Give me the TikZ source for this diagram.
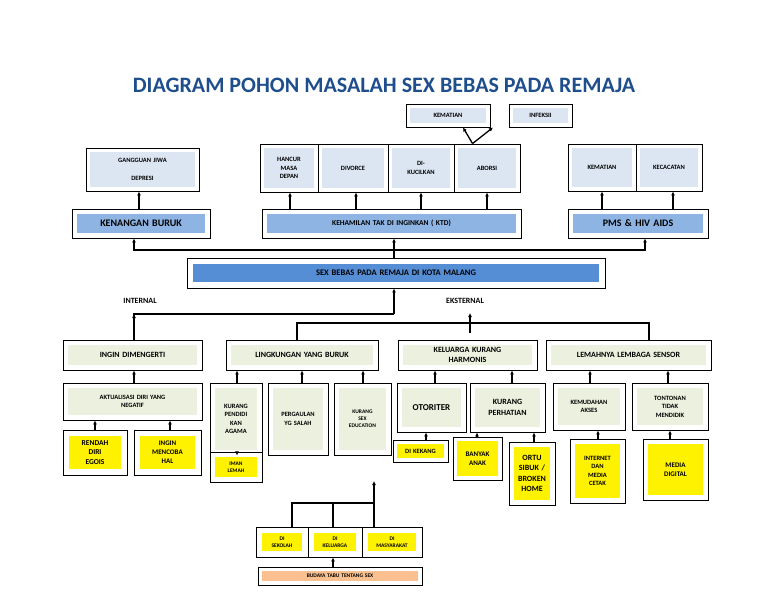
\documentclass[tikz,border=0pt]{standalone}
\usepackage{fontspec}
\setmainfont{Carlito}
\usetikzlibrary{arrows.meta,calc}
\definecolor{ttl}{HTML}{1F4E8C}
\definecolor{lb}{HTML}{DCE6F2}
\definecolor{mb}{HTML}{8EB4E3}
\definecolor{db}{HTML}{558ED5}
\definecolor{lg}{HTML}{EBF1DE}
\definecolor{pe}{HTML}{FAC090}
\tikzset{arr/.style={line width=1.3pt,-{Latex[length=4pt,width=4pt]}},
 ln/.style={line width=1.3pt}}
\newcommand\bx[9]{% name x1 y1 x2 y2 fill inset fontsize text
\pgfmathsetmacro\bxw{#4-#2}\pgfmathsetmacro\bxh{#5-#3}\pgfmathsetmacro\bxt{#4-#2-8}%
\node[draw,line width=0.9pt,fill=white,inner sep=0pt,align=center,
 minimum width=\bxw pt,minimum height=\bxh pt,text width=\bxt pt,
 font=\bfseries\fontsize{#8}{\dimexpr #8pt*13/10\relax}\selectfont,
 path picture={\fill[#6] ([shift={(#7pt,-#7pt)}]path picture bounding box.north west) rectangle ([shift={(-#7pt,#7pt)}]path picture bounding box.south east);}]
 (#1) at ({(#2+#4)/2},{(#3+#5)/2}) {#9};}
\begin{document}
\begin{tikzpicture}[x=1pt,y=-1pt]
\useasboundingbox (0,0) rectangle (768,594);
\node[text=ttl,font=\bfseries\fontsize{22}{26}\selectfont] (title) at (384,85) {DIAGRAM POHON MASALAH SEX BEBAS PADA REMAJA};
% top
\bx{kem1}{406}{104}{490}{127}{lb}{4}{6.5}{KEMATIAN}
\bx{inf}{509}{104}{572}{127}{lb}{4}{6.5}{INFEKSII}
\bx{gj}{86}{148}{199}{191}{lb}{4}{6.5}{GANGGUAN JIWA\\[9pt]DEPRESI}
\bx{hm}{260}{144}{318}{192}{lb}{4}{6.5}{HANCUR\\MASA\\DEPAN}
\bx{dv}{318}{144}{388}{192}{lb}{4}{6.5}{DIVORCE}
\bx{dk}{388}{144}{454}{192}{lb}{4}{6.5}{DI-\\KUCILKAN}
\bx{ab}{454}{144}{520}{192}{lb}{4}{6.5}{ABORSI}
\bx{kem2}{568}{144}{636}{191}{lb}{4}{6.5}{KEMATIAN}
\bx{kc}{636}{144}{702}{191}{lb}{4}{6.5}{KECACATAN}
\bx{kb}{72}{209}{210}{238}{mb}{5}{10}{KENANGAN BURUK}
\bx{ktd}{262}{209}{521}{238}{mb}{5}{7.5}{KEHAMILAN TAK DI INGINKAN ( KTD)\\[5pt]}
\bx{pms}{568}{209}{708}{238}{mb}{5}{10}{PMS \& HIV AIDS}
\bx{sex}{187}{258}{605}{288}{db}{6}{8.5}{SEX BEBAS PADA REMAJA DI KOTA MALANG}
\draw[arr] (ab.north west) ++(19,0) -- (kem1.south -| 463,0);
\draw[arr] (ab.north west) ++(19,0) -- (inf.south -| 493,0);
\draw[arr] (kb.north -| 139,0) -- (gj.south -| 139,0);
\foreach \x/\n in {290/hm,356/dv,421/dk,487/ab} \draw[arr] (ktd.north -| \x,0) -- (\n.south -| \x,0);
\draw[arr] (pms.north -| 602,0) -- (kem2.south -| 602,0);
\draw[arr] (pms.north -| 673,0) -- (kc.south -| 673,0);
\coordinate (hj) at (394,250);
\draw[ln] (sex.north -| hj) -- (hj);
\draw[arr] (hj) -| (kb.south -| 134,0);
\draw[arr] (hj) -- (ktd.south -| hj);
\draw[arr] (hj) -| (pms.south -| 645,0);
\node[font=\bfseries\fontsize{8}{10}\selectfont] (int) at (140,301) {INTERNAL};
\node[font=\bfseries\fontsize{8}{10}\selectfont] (eks) at (465,301) {EKSTERNAL};
% row 2
\bx{id}{63}{340}{202}{370}{lg}{5}{8}{INGIN DIMENGERTI\\[6pt]}
\bx{lk}{226}{340}{378}{370}{lg}{5}{8}{LINGKUNGAN YANG BURUK\\[6pt]}
\bx{kk}{398}{340}{537}{370}{lg}{5}{8}{KELUARGA KURANG\\HARMONIS}
\bx{ls}{546}{340}{711}{370}{lg}{5}{8}{LEMAHNYA LEMBAGA SENSOR\\[6pt]}
\coordinate (ij) at (394,314);
\draw[arr] (ij) -- (sex.south -| ij);
\draw[ln] (ij) -| (id.north -| 134,0);
\draw[arr] (id.north -| 134,0) -- (134,314);
\draw[ln] (lk.north -| 297,0) |- (649,323) -- (ls.north -| 649,0);
\draw[arr] (470,333) -- (470,313);
% row 3
\bx{ak}{63}{383}{202}{420}{lg}{5}{6.5}{AKTUALISASI DIRI YANG\\NEGATIF}
\bx{kp}{210}{383}{262}{455}{lg}{5}{6.5}{KURANG\\PENDIDI\\KAN\\AGAMA}
\bx{pg}{268}{383}{328}{455}{lg}{5}{6.5}{PERGAULAN\\YG SALAH\\[14pt]}
\bx{ks}{334}{383}{391}{455}{lg}{5}{5.5}{KURANG\\SEX\\EDUCATION\\[10pt]}
\bx{ot}{397}{383}{466}{432}{lg}{5}{9}{OTORITER}
\bx{ph}{470}{383}{545}{432}{lg}{5}{8}{KURANG\\PERHATIAN}
\bx{ke}{553}{383}{625}{430}{lg}{5}{6.5}{KEMUDAHAN\\AKSES\\[8pt]}
\bx{tt}{632}{383}{708}{430}{lg}{5}{6.5}{TONTONAN\\TIDAK\\MENDIDIK}
\draw[arr] (ak.north -| 134,0) -- (id.south -| 134,0);
\foreach \x/\n/\p in {237/kp/lk,302/pg/lk,363/ks/lk,435/ot/kk,512/ph/kk,590/ke/ls,668/tt/ls}
  \draw[arr] (\n.north -| \x,0) -- (\p.south -| \x,0);
% row 4
\bx{re}{63}{430}{127}{475}{yellow}{6}{7.5}{RENDAH\\DIRI\\EGOIS}
\bx{im}{134}{430}{201}{475}{yellow}{6}{7}{INGIN\\MENCOBA\\HAL}
\bx{il}{210}{452}{262}{482}{yellow}{5}{5.5}{IMAN\\LEMAH}
\bx{dkg}{393}{440}{448}{462}{yellow}{4}{6.5}{DI KEKANG}
\bx{ba}{453}{437}{502}{480}{yellow}{4}{7}{BANYAK\\ANAK\\[6pt]}
\bx{or}{509}{442}{555}{505}{yellow}{5}{8}{ORTU\\SIBUK /\\BROKEN\\HOME}
\bx{in}{570}{439}{625}{503}{yellow}{5}{6.5}{INTERNET\\DAN\\MEDIA\\CETAK}
\bx{md}{643}{439}{708}{500}{yellow}{5}{7}{MEDIA\\DIGITAL}
\foreach \x/\n/\p in {95/re/ak,170/im/ak,237/il/kp,426/dkg/ot,477/ba/ph,534/or/ph,598/in/ke,670/md/tt}
  \draw[arr] (\n.north -| \x,0) -- (\p.south -| \x,0);
% bottom
\bx{sk}{256}{527}{308}{557}{yellow}{6}{5.5}{DI\\SEKOLAH}
\bx{kl}{308}{527}{362}{557}{yellow}{6}{5.5}{DI\\KELUARGA}
\bx{ms}{362}{527}{422}{557}{yellow}{6}{5.5}{DI\\MASYARAKAT}
\bx{bt}{258}{567}{422}{585}{pe}{4}{5.5}{BUDAYA TABU TENTANG SEX}
\coordinate (bj) at (374,503);
\draw[ln] (sk.north -| 292,0) |- (bj);
\draw[ln] (kl.north -| 333,0) -- (333,503);
\draw[ln] (ms.north -| bj) -- (bj);
\draw[arr] (bj) -- (374,481);
\draw[arr] (bt.north -| 333,0) -- (kl.south -| 333,0);
\end{tikzpicture}
\end{document}
